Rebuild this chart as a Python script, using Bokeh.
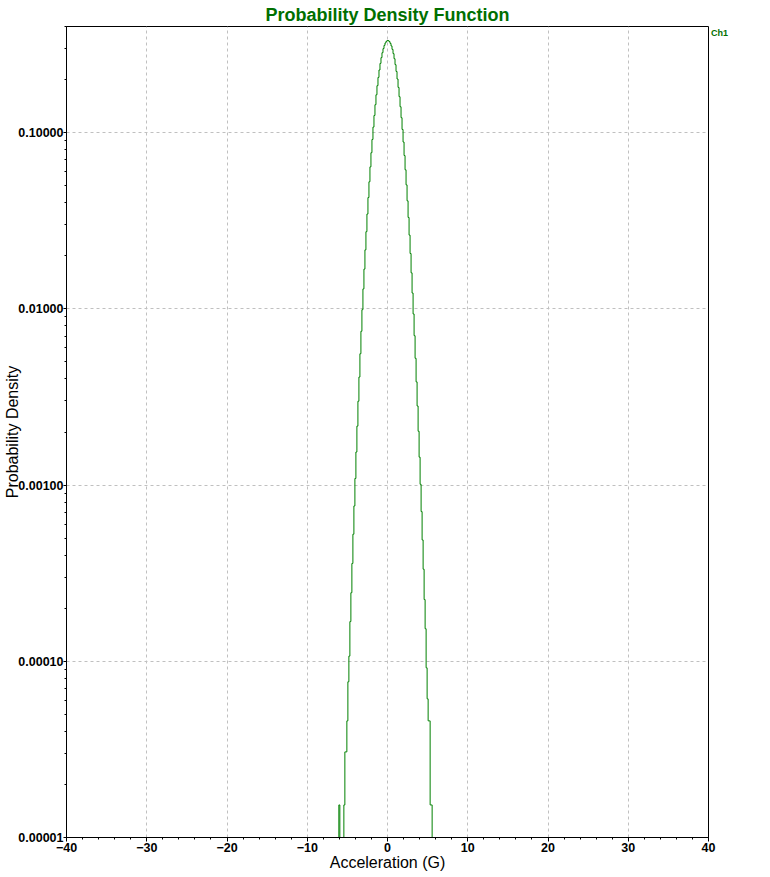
from bokeh.plotting import figure
from bokeh.models import (Range1d, FixedTicker, SingleIntervalTicker, PrintfTickFormatter,
                          Legend, LegendItem)
from bokeh.embed import file_html
from bokeh.resources import INLINE

# ---- data (histogram-style PDF, bin width 0.125 G) ----
bin_start = -6.25
bin_width = 0.125
density = [
    0, 0, 1.53e-5, 0, 0, 0, 0, 1.53e-5, 3.06e-5, 3.06e-5,
    4.59e-5, 7.65e-5, 1.07e-4, 1.68e-4, 2.45e-4, 3.59e-4, 5.26e-4, 7.61e-4, 1.09e-3, 1.54e-3,
    2.16e-3, 2.99e-3, 4.10e-3, 5.56e-3, 7.46e-3, 9.89e-3, 1.297e-2, 1.68e-2, 2.16e-2, 2.74e-2,
    3.45e-2, 4.28e-2, 5.26e-2, 6.39e-2, 7.69e-2, 9.14e-2, 0.1075, 0.1251, 0.1440, 0.1639,
    0.1846, 0.2057, 0.2266, 0.2470, 0.2663, 0.2840, 0.2996, 0.3126, 0.3227, 0.3295,
    0.3327, 0.3324, 0.3284, 0.3209, 0.3103, 0.2967, 0.2806, 0.2626, 0.2430, 0.2224,
    0.2014, 0.1805, 0.1599, 0.1402, 0.1215, 0.1042, 0.0884, 0.0741, 0.0615, 0.0505,
    0.0410, 0.0330, 0.0262, 0.0206, 0.0160, 0.01229, 0.00935, 0.00704, 0.00524, 0.00385,
    0.00281, 0.00202, 0.00144, 0.00101, 7.07e-4, 4.88e-4, 3.33e-4, 2.24e-4, 1.53e-4, 9.18e-5,
    6.12e-5, 4.59e-5, 4.59e-5, 1.53e-5, 1.53e-5, 0, 0, 0,
]
x_major_ticks = [-40, -30, -20, -10, 0, 10, 20, 30, 40]
y_major_ticks = [0.00001, 0.0001, 0.001, 0.01, 0.1]
title_text = "Probability Density Function"
x_label = "Acceleration (G)"
y_label = "Probability Density"
series_name = "Ch1"

GREEN = "#008000"
TITLE_GREEN = "#006f00"
FONT = "Liberation Sans"

centers = [bin_start + i * bin_width for i in range(len(density))]
plot_y = [d if d > 0 else 1e-9 for d in density]   # empty bins drop below the axis

p = figure(frame_width=642, frame_height=811,
           x_range=Range1d(-40, 40), y_range=Range1d(1e-5, 0.4),
           y_axis_type="log", output_backend="svg", toolbar_location=None,
           min_border_left=66, min_border_right=54, min_border_top=25, min_border_bottom=30,
           title=title_text)
p.background_fill_color = "white"
p.border_fill_color = "white"
p.outline_line_color = "black"
p.outline_line_alpha = 1.0
p.outline_line_width = 1

p.title.align = "center"
p.title.text_font = FONT
p.title.text_font_style = "bold"
p.title.text_font_size = "18px"
p.title.text_color = TITLE_GREEN
p.title.standoff = 4
p.title.offset = 0

r = p.step(centers, plot_y, mode="center", line_color=GREEN, line_width=1)

# axes
xa = p.xaxis[0]
xa.ticker = SingleIntervalTicker(interval=10, num_minor_ticks=5)
ya = p.yaxis[0]
minor = [k * 10.0 ** e for e in range(-5, 0) for k in range(2, 10)]
ya.ticker = FixedTicker(ticks=y_major_ticks, minor_ticks=minor)
ya.formatter = PrintfTickFormatter(format="%.5f")
for ax in (xa, ya):
    ax.axis_line_color = "black"
    ax.major_tick_line_color = "black"
    ax.minor_tick_line_color = "black"
    ax.major_tick_in = 0
    ax.minor_tick_in = 0
    ax.major_label_text_font = FONT
    ax.major_label_text_font_style = "bold"
    ax.major_label_text_font_size = "12.5px"
    ax.major_label_text_color = "black"
    ax.axis_label_text_font = FONT
    ax.axis_label_text_font_style = "normal"
    ax.axis_label_text_font_size = "16px"
    ax.axis_label_text_color = "black"
xa.axis_label = x_label
ya.axis_label = y_label
xa.major_tick_out = 4
xa.minor_tick_out = 2
xa.major_label_standoff = 1
xa.axis_label_standoff = -1
ya.major_tick_out = 3
ya.minor_tick_out = 2
ya.major_label_standoff = 0
ya.axis_label_standoff = -6

for g in (p.xgrid[0], p.ygrid[0]):
    g.grid_line_color = "#c0c0c0"
    g.grid_line_dash = "3 3"
    g.grid_line_width = 1
p.ygrid[0].ticker = FixedTicker(ticks=y_major_ticks)

# series name outside the frame, top right (no swatch)
legend = Legend(items=[LegendItem(label=series_name, renderers=[r])],
                location="top_left", margin=2, padding=0, spacing=0,
                glyph_width=0, glyph_height=10, label_height=10, label_standoff=1,
                border_line_color=None, background_fill_alpha=0,
                label_text_font=FONT, label_text_font_style="bold",
                label_text_font_size="9px", label_text_color=TITLE_GREEN)
p.add_layout(legend, "right")

open("out.html", "w").write(file_html(p, INLINE))
